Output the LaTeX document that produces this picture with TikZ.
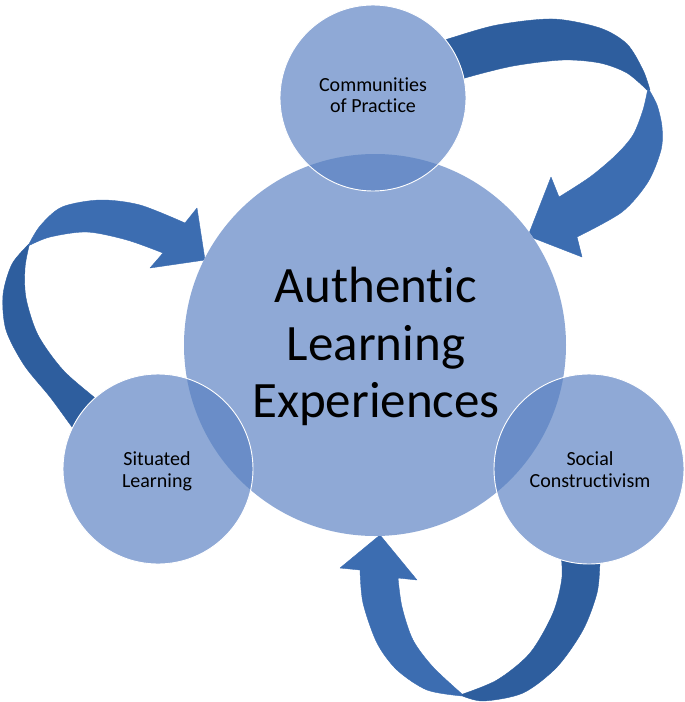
\documentclass[tikz,border=0pt]{standalone}
\usepackage{fontspec}
\setmainfont{Carlito}[Ligatures=NoCommon]
\definecolor{bubblec}{RGB}{88,128,194}
\definecolor{arrdark}{RGB}{46,94,158}
\definecolor{arrlight}{RGB}{60,109,177}
\begin{document}
\begin{tikzpicture}[x=1pt,y=-1pt,
  bubble/.style={circle, inner sep=0pt, outer sep=0pt, fill=bubblec, fill opacity=0.67, draw=white, draw opacity=1, line width=0.9pt},
  bigtext/.style={font=\fontsize{51}{57.5}\selectfont, anchor=base, inner sep=0pt, text=black},
  smalltext/.style={font=\fontsize{20}{21}\selectfont, anchor=base, inner sep=0pt, text=black},
  ribbondark/.style={fill=arrdark, draw=arrdark, line width=0.4pt, line join=round},
  ribbonlight/.style={fill=arrlight, draw=arrlight, line width=0.4pt, line join=round}]
\useasboundingbox (0,0) rectangle (685,702);

% top-right ribbon arrow
\filldraw[ribbondark] plot[smooth] coordinates {(440,42) (451,38) (497,25) (553,19) (600,28) (627,44) (643,70) (650,90)}
  -- plot[smooth] coordinates {(647,90) (627,73) (600,63) (563,60) (513,66) (465,78) (452,84)} -- cycle;
\filldraw[ribbonlight] plot[smooth] coordinates {(648,88) (657,105) (662,127) (661,150) (648,182) (622,212) (577,237)}
  -- (582,257) -- (528,236) -- (551,177)
  -- plot[smooth] coordinates {(559,197) (590,177) (616,155) (633,135) (643,110) (648,88)} -- cycle;

% bottom ribbon arrow
\filldraw[ribbondark] plot[smooth] coordinates {(460,695) (483,701) (523,693) (557,667) (583,630) (597,593) (600,563) (601,545)}
  -- plot[smooth] coordinates {(560,545) (562,577) (553,613) (530,653) (497,680) (460,695)} -- cycle;
\filldraw[ribbonlight] (380,535) -- (417,580)
  -- plot[smooth] coordinates {(398,578) (402,607) (413,640) (433,667) (462,694)}
  -- plot[smooth] coordinates {(462,696) (427,690) (397,670) (377,643) (363,603) (360,570)}
  -- (340,568) -- cycle;

% left ribbon arrow
\filldraw[ribbondark] plot[smooth] coordinates {(29,244) (12,264) (3,295) (6,330) (24,365) (50,397) (72,427) (82,440)}
  -- plot[smooth] coordinates {(106,408) (95,398) (63,370) (38,335) (26,298) (25,268) (29,246)} -- cycle;
\filldraw[ribbonlight] (205,260) -- (197,208)
  -- plot[smooth] coordinates {(185,223) (140,205) (100,200) (62,207) (40,226) (28,246)}
  -- plot[smooth] coordinates {(28,246) (50,237) (87,232) (127,240) (163,253)}
  -- (150,268) -- cycle;

% white underlay hides the ribbon tails
\fill[white] (375,345) circle[radius=191pt] (373,98) circle[radius=93pt]
  (158,469) circle[radius=95pt] (589,469) circle[radius=95pt];

% circles
\node[bubble, draw=none, minimum size=382pt] (core) at (375,345) {};
\node[bubble, minimum size=186pt] (cop) at (373,98) {};
\node[bubble, minimum size=190pt] (sl) at (158,469) {};
\node[bubble, minimum size=190pt] (sc) at (589,469) {};

% texts
\node[bigtext] (core1) at (376,302) {Authentic};
\node[bigtext] (core2) at (376,360) {Learning};
\node[bigtext] (core3) at (376,417) {Experiences};
\node[smalltext] (cop1) at (373,91) {Communities};
\node[smalltext] (cop2) at (373,112) {of Practice};
\node[smalltext] (sl1) at (157,465) {Situated};
\node[smalltext] (sl2) at (157,487) {Learning};
\node[smalltext] (sc1) at (590,465) {Social};
\node[smalltext] (sc2) at (590,487) {Constructivism};
\end{tikzpicture}
\end{document}
